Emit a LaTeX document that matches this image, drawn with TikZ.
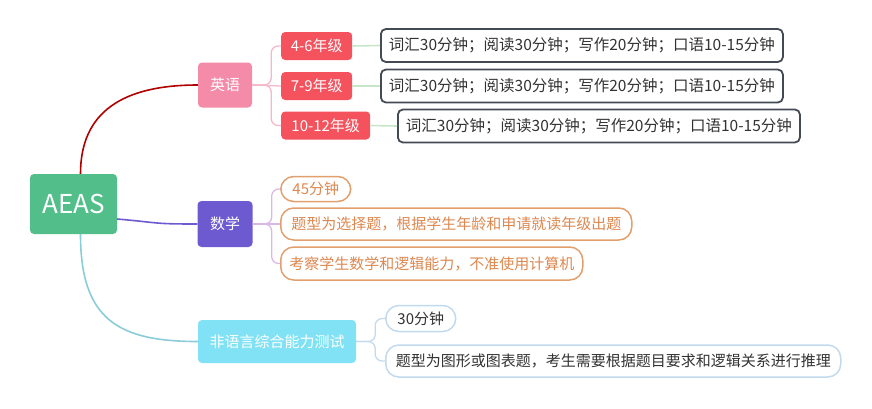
\documentclass[tikz,border=0pt]{standalone}
\usepackage{fontspec}
\setmainfont{Noto Sans CJK SC}
\usepackage{tikz}
\usetikzlibrary{positioning}

\definecolor{aeasgreen}{HTML}{52BE8A}
\definecolor{enpink}{HTML}{F38BA9}
\definecolor{gradered}{HTML}{F4525D}
\definecolor{mathpurple}{HTML}{6E5AD0}
\definecolor{nvcyan}{HTML}{80E2F4}
\definecolor{darkline}{HTML}{434A54}
\definecolor{orangeline}{HTML}{E2A06E}
\definecolor{orangetext}{HTML}{DC8850}
\definecolor{blueline}{HTML}{C2DAEE}
\definecolor{pinkline}{HTML}{F5B8C8}
\definecolor{lilacline}{HTML}{D9B8E8}
\definecolor{greenline}{HTML}{C6E6C8}

\begin{document}
\begin{tikzpicture}[x=1pt,y=-1pt,
    font=\fontsize{15}{18}\selectfont,
    block_root/.style ={rectangle, rounded corners=4pt, fill=aeasgreen,
      text=white, font=\fontsize{26}{30}\selectfont,
      minimum width=87pt, minimum height=60pt},
    block_main/.style ={rectangle, rounded corners=4pt, text=white,
      inner xsep=8pt, minimum height=45pt},
    block_grade/.style ={rectangle, rounded corners=4pt, fill=gradered,
      text=white, inner xsep=6pt, minimum height=28pt, anchor=west},
    block_detail/.style ={rectangle, rounded corners=5pt, draw=darkline,
      line width=1.8pt, fill=white, text=black!80, inner xsep=8pt,
      font=\fontsize{15.5}{18}\selectfont,
      minimum width=402pt, minimum height=33pt, anchor=west},
    block_math/.style ={rectangle, rounded corners=13pt, draw=orangeline,
      line width=1.5pt, fill=white, text=orangetext, inner xsep=6pt,
      minimum height=30pt, anchor=west},
    block_nv/.style ={rectangle, rounded corners=13pt, draw=blueline,
      line width=1.5pt, fill=white, text=black!80, inner xsep=6pt,
      minimum height=27pt, anchor=west},
    link/.style ={draw, line width=1.6pt},
    brace/.style ={draw, line width=1.3pt, rounded corners=7pt}]
  \useasboundingbox (0,0) rectangle (872,408);
  % root
  \node [block_root] (aeas) at (73.5,204) {AEAS};
  % english - branch 1
  \node [block_main, fill=enpink, minimum width=54pt] (en) at (225,85) {英语};
  \node [block_grade, minimum width=71pt] (g46) at (281,46) {4-6年级};
  \node [block_grade, minimum width=71pt] (g79) at (281,86) {7-9年级};
  \node [block_grade, minimum width=89pt] (g1012) at (281,125.5) {10-12年级};
  \node [block_detail] (d46) at (380,45.5) {词汇30分钟；阅读30分钟；写作20分钟；口语10-15分钟};
  \node [block_detail] (d79) at (380,86) {词汇30分钟；阅读30分钟；写作20分钟；口语10-15分钟};
  \node [block_detail] (d1012) at (397,126) {词汇30分钟；阅读30分钟；写作20分钟；口语10-15分钟};
  % math - branch 2
  \node [block_main, fill=mathpurple, minimum width=55pt, minimum height=46pt] (math) at (225,224) {数学};
  \node [block_math, minimum width=70pt, minimum height=25pt] (mtime) at (280,189) {45分钟};
  \node [block_math, minimum width=351pt, minimum height=32pt] (mtype) at (280,224) {题型为选择题，根据学生年龄和申请就读年级出题};
  \node [block_math, minimum width=302pt, minimum height=33pt] (mskill) at (280,263.5) {考察学生数学和逻辑能力，不准使用计算机};
  % non-verbal - branch 3
  \node [block_main, fill=nvcyan, minimum width=158pt, minimum height=43pt] (nv) at (277,341.5) {非语言综合能力测试};
  \node [block_nv, minimum width=70pt, minimum height=26pt] (ntime) at (385,318.5) {30分钟};
  \node [block_nv, minimum width=455pt, minimum height=32pt] (ntype) at (385,361) {题型为图形或图表题，考生需要根据题目要求和逻辑关系进行推理};

  % connecting root to branches
  \path [link, draw=red!70!black] ([xshift=7pt]aeas.north) .. controls +(0,-62) and +(-75,0) .. (en.west);
  \path [link, draw=mathpurple] ([yshift=-15pt]aeas.east) .. controls +(45,4) and +(-45,0) .. (math.west);
  \path [link, draw=nvcyan!85!black!80] ([xshift=7pt]aeas.south) .. controls +(0,85) and +(-80,0) .. (nv.west);

  % braces to the leaves
  \coordinate [right=19pt of en.east] (enJ);
  \coordinate [right=19pt of math.east] (mathJ);
  \coordinate [right=19pt of nv.east] (nvJ);
  \begin{scope}[every path/.style=brace]
    \path [draw=pinkline] (en.east) -- (enJ) |- (g46.west);
    \path [draw=pinkline] (en.east) -- (g79.west);
    \path [draw=pinkline] (en.east) -- (enJ) |- (g1012.west);
    \path [draw=lilacline] (math.east) -- (mathJ) |- (mtime.west);
    \path [draw=lilacline] (math.east) -- (mtype.west);
    \path [draw=lilacline] (math.east) -- (mathJ) |- (mskill.west);
    \path [draw=blueline] (nv.east) -- (nvJ) |- (ntime.west);
    \path [draw=blueline] (nv.east) -- (nvJ) |- (ntype.west);
  \end{scope}
  \begin{scope}[every path/.style={link, draw=greenline}]
    \path (g46.east) -- (d46.west);
    \path (g79.east) -- (d79.west);
    \path (g1012.east) -- (d1012.west);
  \end{scope}
\end{tikzpicture}
\end{document}
